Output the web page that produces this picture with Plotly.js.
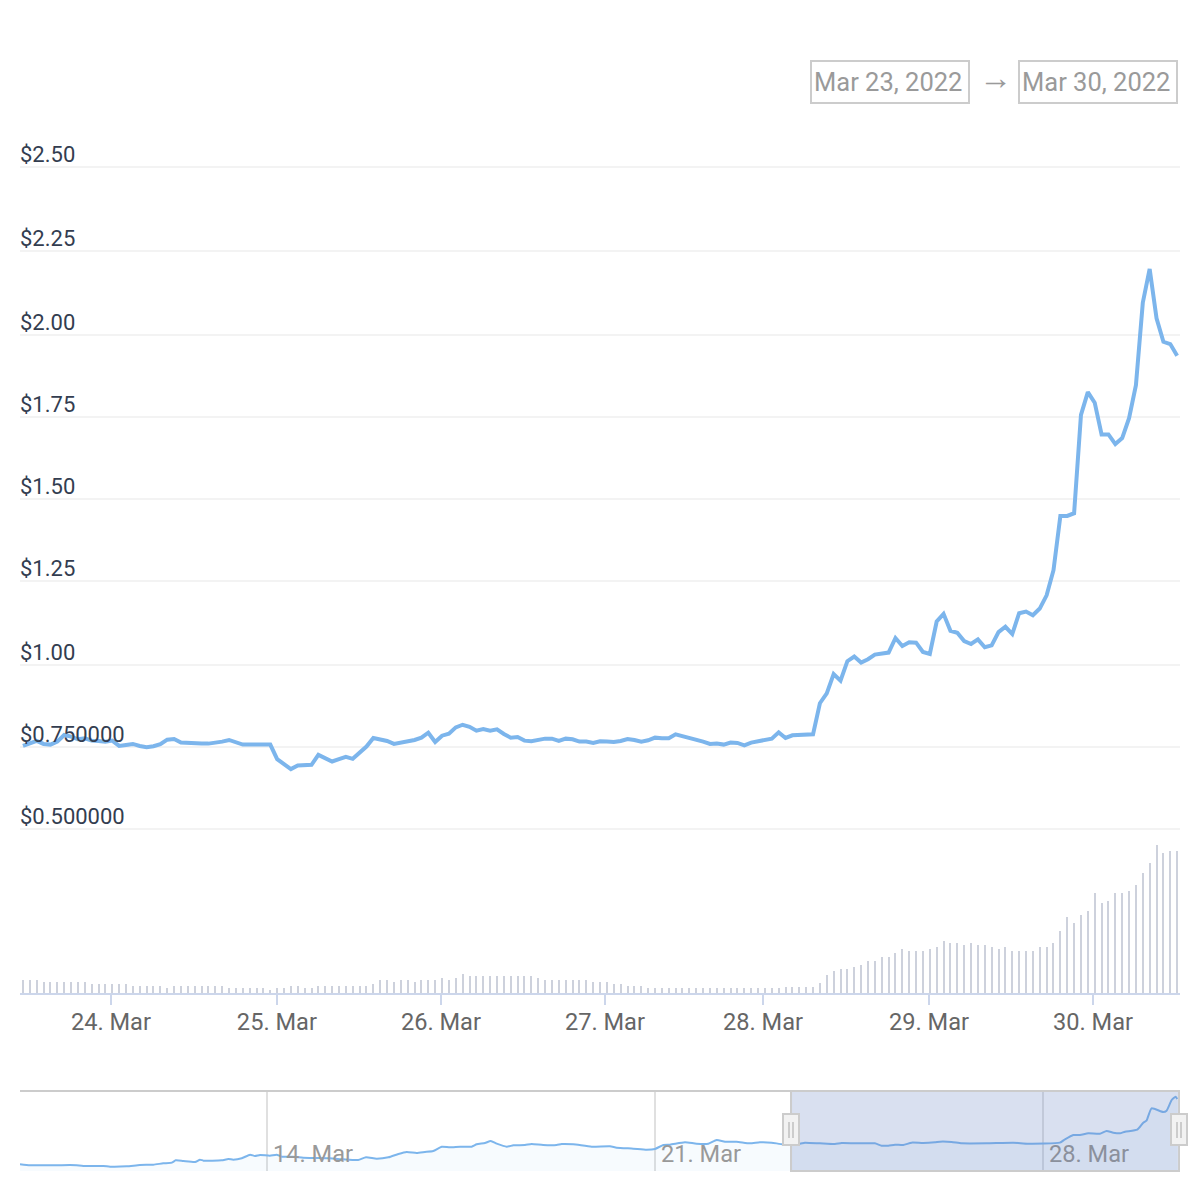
<!DOCTYPE html>
<html>
<head>
<meta charset="utf-8">
<script src="https://cdn.plot.ly/plotly-3.0.1.min.js"></script>
<style>html,body{margin:0;padding:0;background:#fff}</style>
</head>
<body>
<div id="chart" style="width:1200px;height:1200px"></div>
<script>
// Hourly price (USD)
const prices = [
.751,.758,.766,.757,.755,.764,.784,.779,.771,.774,.767,.766,.764,.767,.751,.754,.757,.751,.747,.750,
.756,.770,.772,.761,.759,.759,.758,.758,.760,.764,.769,.762,.755,.755,.754,.754,.755,.711,.696,.681,
.692,.693,.694,.724,.713,.704,.711,.718,.712,.732,.749,.775,.771,.766,.757,.761,
.764,.769,.776,.791,.763,.782,.788,.807,.815,.809,.797,.802,.797,.801,.787,.776,.778,.767,.765,.770,
.773,.773,.766,.773,.771,.764,.764,.760,.765,.764,.763,.766,.772,.769,.764,.768,.776,.774,.774,.786,
.781,.776,.769,.764,.757,.758,.755,.761,.760,.753,.761,.765,.772,.773,.792,.775,.783,.784,.783,.786,.880,
.910,.968,.948,1.007,1.021,1.003,1.013,1.027,1.030,1.033,1.077,1.053,1.064,1.063,1.035,1.029,1.127,1.150,
1.099,1.093,1.068,1.059,1.073,1.049,1.055,1.095,1.111,1.089,1.152,1.157,1.146,1.166,1.206,1.282,1.446,
1.446,1.454,1.751,1.820,1.788,1.692,1.692,1.663,1.681,1.741,1.841,2.090,2.192,2.043,1.972,1.965,1.930
];
// Hourly volume (relative units)
const volumes = [
40,40,40,34,34,34,34,34,34,34,28,28,28,28,28,28,22,22,22,22,22,16,22,22,22,22,22,22,22,22,
16,16,16,16,16,16,10,16,16,22,22,16,16,22,22,22,22,22,22,22,22,28,40,40,34,40,40,
34,40,40,40,46,40,46,58,52,52,52,52,52,52,52,52,52,52,46,40,40,40,40,40,40,40,34,34,34,28,28,
22,22,22,16,16,16,16,16,16,16,16,16,16,16,16,16,16,16,16,16,16,16,16,18,18,18,
18,18,30,54,66,72,72,78,84,96,96,108,108,120,132,126,126,126,132,138,156,150,150,144,150,144,144,138,
132,138,126,126,126,126,138,138,150,186,228,210,234,246,300,270,276,300,300,306,324,360,390,444,420,426,426
];
// Overview series: hours since the overview start, and price
const navHours = [
0,4.3,10.1,15.9,21.6,24.5,27.4,36.1,39,46.2,51.9,57.7,62,65.7,67.4,70.7,75.8,77.9,79.4,87.3,90.2,92.3,96,99.6,101.7,103.9,108.2,111.1,113.3,118.3,122.6,128.4,134.2,140,146.4,149.8,154.4,159.5,163.8,
167.4,171.7,175.3,178.9,182.6,186.1,190.5,195.5,197.7,201.3,203.8,206.4,210.7,213.6,218.6,221.5,226.5,232.3,234.5,239.5,247.5,255.4,258.3,265.5,271.3,274.9,278.5,281.4,287.9,292.9,298,301.6,305.2,310.2,316,320.3,325.4,330.4,
337.7,339.8,346.3,352.8,355.7,363.6,370.1,373,375.9,378.8,382.4,386,391,396.1,398.3,403.3,407.7,418.5,430,436.5,450.2,452.4,456,458.9,462.5,467.5,470.4,473.3,476.2,478.4,483.7,486.3,487.7,489.9,494.9,496.4,498.6,500.3,501
];
const navValues = [
.101,.070,.070,.070,.080,.070,.050,.050,.029,.039,.080,.090,.132,.152,.224,.204,.173,.245,.214,.224,.265,.245,.286,.399,.358,.389,.368,.399,.337,.337,.307,.296,.286,.255,.235,.317,.276,.317,.420,
.481,.451,.481,.512,.646,.625,.646,.646,.718,.759,.821,.739,.646,.687,.698,.728,.698,.698,.728,.718,.646,.656,.615,.585,.553,.574,.698,.708,.780,.739,.739,.852,.800,.800,.749,.780,.770,.718,
.739,.770,.749,.728,.759,.749,.749,.677,.677,.708,.698,.770,.759,.780,.800,.790,.749,.749,.770,.739,.770,.872,1.006,1.006,1.058,1.047,1.130,1.078,1.058,1.109,1.171,1.387,1.449,1.829,1.716,1.757,2.086,2.189,2.117
];
// Axis ticks
const priceTicks = [0.5,0.748,0.995,1.249,1.498,1.746,1.992,2.246,2.5];
const priceLabels = ['$0.500000','$0.750000','$1.00','$1.25','$1.50','$1.75','$2.00','$2.25','$2.50'];
const dayTicks = ['2022-03-24T00:00','2022-03-25T00:20','2022-03-26T00:23','2022-03-27T00:26','2022-03-27T23:36','2022-03-28T23:57','2022-03-30T00:00'];
const dayLabels = ['24. Mar','25. Mar','26. Mar','27. Mar','28. Mar','29. Mar','30. Mar'];
const navTicks = ['2022-03-14','2022-03-21','2022-03-28'];
const navLabels = ['14. Mar','21. Mar','28. Mar'];
const startDate = 'Mar 23, 2022', endDate = 'Mar 30, 2022';

const H = 3600e3;
const t0 = Date.UTC(2022,2,23,11,6);
const stepMs = 60.44*60e3;
const times = prices.map((_,i)=>t0+i*stepMs);
const navT0 = Date.UTC(2022,2,9,13,4);
const navTimes = navHours.map(h=>navT0+h*H);
const navMin=-0.105, navMax=2.364;
const navEnd = navT0+502.2*H, selStart = navT0+333.8*H, selEnd = navT0+501.8*H;
const mainRange = [Date.UTC(2022,2,23,10,40),Date.UTC(2022,2,30,12,45)];

const px = v=>v/1200;
const traces = [
 {type:'bar',x:times,y:volumes,xaxis:'x',yaxis:'y2',width:2/163.67*86400e3,
  marker:{color:'#cdd1dc',line:{width:0}},hoverinfo:'skip'},
 {type:'scatter',mode:'lines',x:times,y:prices,xaxis:'x3',yaxis:'y',
  line:{color:'#7cb5ec',width:4},hoverinfo:'skip'},
 {type:'scatter',mode:'lines',x:navTimes,y:navTimes.map(()=>navMin),xaxis:'x2',yaxis:'y3',
  line:{width:0},hoverinfo:'skip'},
 {type:'scatter',mode:'lines',x:navTimes,y:navValues,xaxis:'x2',yaxis:'y3',fill:'tonexty',
  fillcolor:'rgba(124,181,236,0.06)',line:{color:'#7cb5ec',width:2,shape:'spline',smoothing:0.5},hoverinfo:'skip'}
];
const box = (x0,x1,y0,y1,extra)=>Object.assign({type:'rect',xref:'paper',yref:'paper',
  x0:px(x0),x1:px(x1),y0:1-px(y1),y1:1-px(y0),line:{color:'#cccccc',width:2},fillcolor:'rgba(0,0,0,0)',layer:'above'},extra||{});
const vline = (x,y0,y1)=>({type:'line',xref:'paper',yref:'paper',x0:px(x),x1:px(x),y0:1-px(y1),y1:1-px(y0),
  line:{color:'#cccccc',width:2},layer:'above'});
const shapes = [
 box(811,969,61,103), box(1019,1177,61,103),
 {type:'line',xref:'paper',yref:'paper',x0:px(20),x1:px(1180),y0:1-px(1091),y1:1-px(1091),line:{color:'#cccccc',width:2},layer:'above'},
 {type:'rect',xref:'x2',yref:'paper',x0:selStart,x1:selEnd,y0:1-px(1171),y1:1-px(1091),
  line:{color:'#cccccc',width:2},fillcolor:'rgba(102,133,194,0.25)',layer:'above'},
 box(783,799,1114,1145,{fillcolor:'#f2f2f2'}), vline(789,1122,1138), vline(793,1122,1138),
 box(1171,1187,1114,1145,{fillcolor:'#f2f2f2'}), vline(1177,1122,1138), vline(1181,1122,1138)
];
const topNote = (text,x,size,yp)=>({xref:'paper',yref:'paper',x:px(x),y:1-px(yp||82),xanchor:'center',yanchor:'middle',
  text:text,showarrow:false,font:{family:'Roboto',size:size||25.5,color:'#9a9a9a'}});
const annotations = [
 topNote(startDate,888), topNote(endDate,1096), topNote('→',995,33,78),
 ...navTicks.map((t,i)=>({xref:'x2',yref:'paper',x:t,y:1-px(1154),xanchor:'left',yanchor:'middle',xshift:4,
   text:navLabels[i],showarrow:false,font:{family:'Roboto',size:23.6,color:i===2?'#8b909c':'#999999'}}))
];
const layout = {
 width:1200,height:1200,margin:{l:0,r:0,t:0,b:0,pad:0},paper_bgcolor:'#fff',plot_bgcolor:'rgba(0,0,0,0)',
 showlegend:false,hovermode:false,bargap:0,font:{family:'Roboto'},
 xaxis:{type:'date',domain:[px(20),px(1180)],anchor:'y2',range:mainRange,
  tickmode:'array',tickvals:dayTicks,ticktext:dayLabels,ticks:'outside',ticklen:10,tickwidth:2,tickcolor:'#ccd6eb',ticklabelstandoff:-3,
  showline:true,linecolor:'#ccd6eb',linewidth:2,showgrid:false,zeroline:false,
  tickfont:{family:'Roboto',size:23.6,color:'#666666'}},
 xaxis3:{type:'date',domain:[px(20),px(1180)],anchor:'y',range:mainRange,showticklabels:false,ticks:'',showline:false,showgrid:false,zeroline:false},
 yaxis:{domain:[1-px(835),1-px(120)],anchor:'x3',range:[0.4819,2.642],tickmode:'array',tickvals:priceTicks,ticktext:priceLabels,
  ticklabelposition:'inside top',ticklabelstandoff:-3,ticklabelshift:3,ticks:'',showline:false,zeroline:false,showgrid:true,gridcolor:'#f3f3f3',gridwidth:2,
  tickfont:{family:'Roboto',size:22,color:'#333d50'}},
 yaxis2:{domain:[1-px(993),1-px(829)],anchor:'x',range:[0,492],showgrid:false,zeroline:false,showticklabels:false,ticks:'',showline:false},
 xaxis2:{type:'date',domain:[px(20),px(1180)],anchor:'y3',range:[navT0,navEnd],tickmode:'array',tickvals:navTicks,
  showticklabels:false,ticks:'',showline:false,zeroline:false,showgrid:true,gridcolor:'rgba(0,0,0,0.12)',gridwidth:2},
 yaxis3:{domain:[1-px(1171),1-px(1091)],anchor:'x2',range:[navMin,navMax],showgrid:false,zeroline:false,showticklabels:false,ticks:'',showline:false},
 shapes:shapes,annotations:annotations
};
Plotly.newPlot('chart',traces,layout,{displayModeBar:false,staticPlot:true});
</script>
</body>
</html>
